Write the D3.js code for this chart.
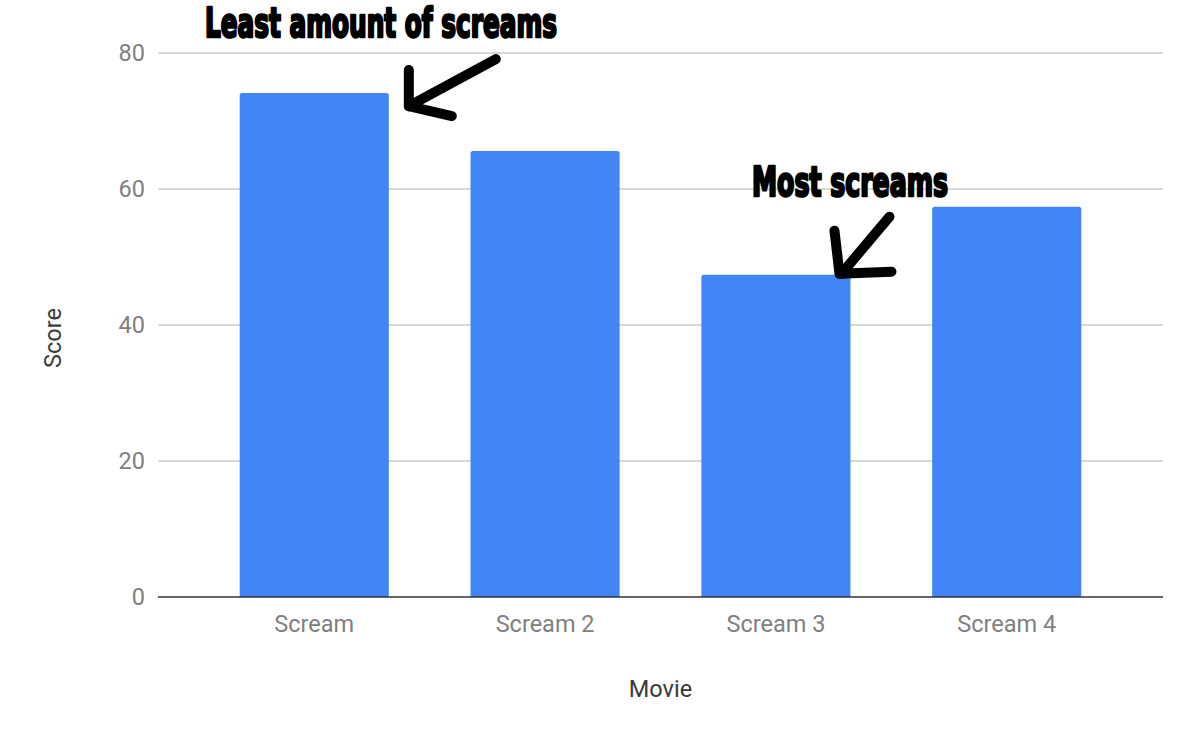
<!DOCTYPE html>
<html>
<head>
<meta charset="utf-8">
<script src="https://cdn.jsdelivr.net/npm/d3@7"></script>
<style>
  html, body { margin: 0; padding: 0; background: #fff; }
  svg { display: block; }
</style>
</head>
<body>
<svg id="chart" width="1200" height="742"></svg>
<script>
// ---- data ----
const categories = ["Scream", "Scream 2", "Scream 3", "Scream 4"];
const scores = [74.1, 65.6, 47.4, 57.4];
const yTicks = [0, 20, 40, 60, 80];
const xTitle = "Movie";
const yTitle = "Score";
const noteLeast = "Least amount of screams";
const noteMost = "Most screams";

// ---- layout ----
const svg = d3.select("#chart");
const plot = { left: 158, right: 1163, top: 53, bottom: 597 };

const x = d3.scaleBand().domain(categories).range([plot.left, plot.right]).padding(0.354);
const y = d3.scaleLinear().domain([0, 80]).range([plot.bottom, plot.top]);

// gridlines
svg.append("g").selectAll("line").data(yTicks.filter(d => d !== 0)).join("line")
  .attr("x1", plot.left).attr("x2", plot.right)
  .attr("y1", d => y(d)).attr("y2", d => y(d))
  .attr("stroke", "#cccccc").attr("stroke-width", 1.5);

// y tick labels
svg.append("g").selectAll("text").data(yTicks).join("text")
  .attr("x", 145).attr("y", d => y(d))
  .attr("dy", "0.36em")
  .attr("text-anchor", "end")
  .attr("font-family", "Roboto, sans-serif").attr("font-size", 23.5)
  .attr("fill", "#808080")
  .text(d => d);

// bars
const data = categories.map((c, i) => ({ c, v: scores[i] }));
svg.append("g").selectAll("path").data(data).join("path")
  .attr("fill", "#4285f4")
  .attr("d", d => {
    const x0 = x(d.c), w = x.bandwidth(), y0 = y(d.v), h = y(0) - y(d.v), r = 2.5;
    return `M${x0},${y0 + h}V${y0 + r}Q${x0},${y0} ${x0 + r},${y0}H${x0 + w - r}Q${x0 + w},${y0} ${x0 + w},${y0 + r}V${y0 + h}Z`;
  });

// baseline
svg.append("line")
  .attr("x1", plot.left).attr("x2", plot.right)
  .attr("y1", y(0)).attr("y2", y(0))
  .attr("stroke", "#333333").attr("stroke-width", 1.5);

// x labels
svg.append("g").selectAll("text").data(categories).join("text")
  .attr("x", d => x(d) + x.bandwidth() / 2).attr("y", 632)
  .attr("text-anchor", "middle")
  .attr("font-family", "Roboto, sans-serif").attr("font-size", 23.5)
  .attr("fill", "#808080")
  .text(d => d);

// axis titles
svg.append("text")
  .attr("x", (plot.left + plot.right) / 2).attr("y", 697)
  .attr("text-anchor", "middle")
  .attr("font-family", "Roboto, sans-serif").attr("font-size", 23.5)
  .attr("fill", "#3a3a3a")
  .text(xTitle);

svg.append("text")
  .attr("transform", `translate(61,${(plot.top + plot.bottom) / 2 + 13}) rotate(-90)`)
  .attr("text-anchor", "middle")
  .attr("font-family", "Roboto, sans-serif").attr("font-size", 23.5)
  .attr("fill", "#3a3a3a")
  .text(yTitle);

// ---- hand-drawn annotations ----
function note(txt, cx, baseline, len) {
  svg.append("text")
    .attr("x", cx - len / 2).attr("y", baseline)
    .attr("textLength", len).attr("lengthAdjust", "spacingAndGlyphs")
    .attr("font-family", "'Liberation Sans Narrow', 'DejaVu Sans Condensed', sans-serif")
    .attr("font-weight", "bold").attr("font-size", 41)
    .attr("fill", "#000").attr("stroke", "#000").attr("stroke-width", 2.6)
    .attr("stroke-linejoin", "round")
    .text(txt);
}
function arrow(pts) {
  svg.append("path")
    .attr("d", d3.line()(pts))
    .attr("fill", "none").attr("stroke", "#000")
    .attr("stroke-width", 10).attr("stroke-linecap", "round").attr("stroke-linejoin", "round");
}

// annotation 1 near "Scream"
note(noteLeast, 381, 37, 352);
{
  const tx = x("Scream") + x.bandwidth() + 20, ty = y(scores[0]) + 13;
  arrow([[tx + 87, ty - 47], [tx, ty]]);
  arrow([[tx, ty - 36], [tx, ty], [tx + 43, ty + 10]]);
}

// annotation 2 near "Scream 3"
note(noteMost, 850, 196, 196);
{
  const tx = x("Scream 3") + x.bandwidth() - 9, ty = y(scores[2]) - 1;
  arrow([[tx + 48, ty - 57], [tx, ty]]);
  arrow([[tx - 7, ty - 43], [tx - 2, ty], [tx + 50, ty - 2]]);
}
</script>
</body>
</html>
